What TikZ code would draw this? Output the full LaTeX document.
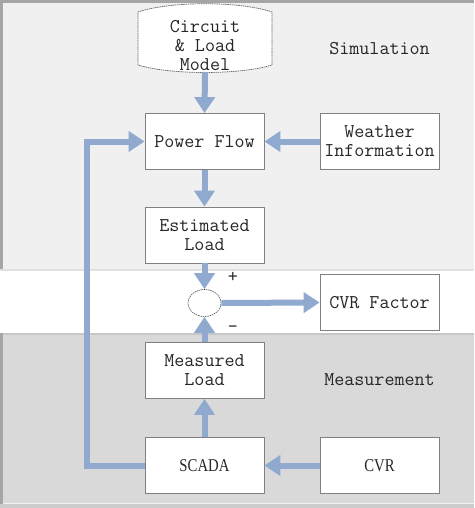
\documentclass[tikz,border=0pt]{standalone}
\usepackage{fontspec}
\newfontfamily\serf[FakeStretch=0.82]{Liberation Serif}
\usetikzlibrary{arrows.meta,shapes.geometric}
\definecolor{arr}{RGB}{143,170,206}
\definecolor{boxline}{RGB}{128,128,128}
\definecolor{simbg}{RGB}{240,240,240}
\definecolor{measbg}{RGB}{217,217,217}
\definecolor{edge}{RGB}{165,165,165}
\begin{document}
\begin{tikzpicture}[x=1pt,y=-1pt,
  txt/.style={font={\ttfamily\fontsize{19.5pt}{19pt}\selectfont},align=center,inner sep=0pt,text=black!85},
  box/.style={txt,draw=boxline,fill=white,line width=0.8pt,minimum width=119pt,minimum height=56pt},
  sbox/.style={box,font={\serf\fontsize{18pt}{20pt}\selectfont}},
  flow/.style={draw=arr,line width=6pt,-{Triangle[length=16pt,width=20pt]}}]
\useasboundingbox (0,0) rectangle (474,508);
% panels
\fill[simbg] (0,0) rectangle (474,270);
\fill[edge] (0,0) rectangle (474,3);
\fill[edge] (0,0) rectangle (3,270);
\fill[black!12] (0,269) rectangle (474,270.5);
\fill[measbg] (0,333) rectangle (474,508);
\fill[black!22] (0,333) rectangle (474,335);
\fill[edge] (0,333) rectangle (3,508);
\fill[black!5] (3,503) rectangle (474,504);
\fill[black!20] (0,504) rectangle (474,508);
% model shape
\fill[white] (138,12) .. controls (170,1) and (240,1) .. (272,12) -- (272,65)
  .. controls (240,75) and (170,75) .. (138,65) -- cycle;
\draw[black!60,line width=0.7pt,dash pattern=on 1.5pt off 0.7pt]
  (138,12) .. controls (170,1) and (240,1) .. (272,12) -- (272,65)
  .. controls (240,75) and (170,75) .. (138,65) -- cycle;
\node[txt] (model) at (205,45) {Circuit\\\& Load\\Model};
\coordinate (modelbase) at (205,72);
% boxes
\node[box] (pf) at (204.5,141.5) {Power Flow};
\node[box] (wi) at (379.5,141.5) {Weather\\Information};
\node[box] (el) at (204.5,235) {Estimated\\Load};
\node[box] (cvrf) at (379.5,302.5) {CVR Factor};
\node[box] (ml) at (204.5,370.5) {Measured\\Load};
\node[sbox] (scada) at (204.5,465.5) {SCADA};
\node[sbox] (cvr) at (379.5,465.5) {CVR};
\node[ellipse,draw=black!70,line width=0.6pt,dash pattern=on 1.5pt off 0.8pt,fill=white,
  minimum width=33pt,minimum height=27pt,inner sep=0pt] (sum) at (204.5,303) {};
% labels
\node[txt] (sim) at (379.5,49) {Simulation};
\node[txt] (meas) at (379.5,380) {Measurement};
\node[txt] (plus) at (233,277) {+};
\node[txt] (minus) at (233,329) {-};
% connectors
\draw[flow] (modelbase) -- (pf.north);
\draw[flow] (wi.west) -- (pf.east);
\draw[flow] (pf.south) -- (el.north);
\draw[flow] (el.south) -- (sum.north);
\draw[flow] (sum.east) -- (cvrf.west);
\draw[flow] (ml.north) -- (sum.south);
\draw[flow] (scada.north) -- (ml.south);
\draw[flow] (cvr.west) -- (scada.east);
\coordinate (fbx) at (87,0);
\draw[flow] (scada.west) -- (scada.west -| fbx) |- (pf.west);
\end{tikzpicture}
\end{document}
